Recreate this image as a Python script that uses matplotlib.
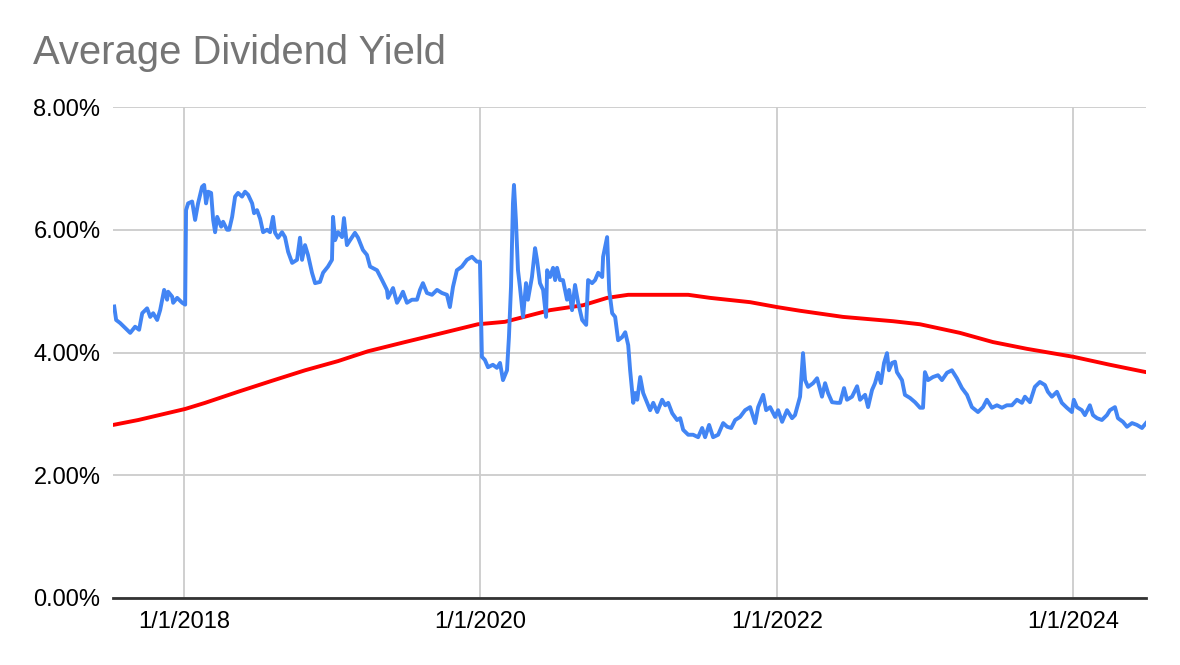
import matplotlib
matplotlib.use("Agg")
import matplotlib.pyplot as plt
import matplotlib.dates as mdates
from matplotlib.ticker import FuncFormatter
import pandas as pd

# ---- data (dates as decimal years, yields in %) ----
blue_t = [
    2017.528, 2017.541, 2017.568, 2017.602, 2017.636, 2017.669, 2017.696, 2017.717, 2017.750, 2017.771,
    2017.791, 2017.818, 2017.838, 2017.865, 2017.885, 2017.892, 2017.919, 2017.926, 2017.953, 2017.987,
    2018.007, 2018.013, 2018.027, 2018.054, 2018.074, 2018.094, 2018.121, 2018.135, 2018.148, 2018.162,
    2018.182, 2018.196, 2018.209, 2018.223, 2018.250, 2018.263, 2018.290, 2018.304, 2018.324, 2018.344,
    2018.364, 2018.391, 2018.411, 2018.432, 2018.459, 2018.472, 2018.492, 2018.513, 2018.533, 2018.560,
    2018.580, 2018.600, 2018.614, 2018.634, 2018.661, 2018.681, 2018.702, 2018.729, 2018.762, 2018.782,
    2018.796, 2018.816, 2018.836, 2018.863, 2018.884, 2018.917, 2018.938, 2018.971, 2018.998, 2019.005,
    2019.019, 2019.039, 2019.066, 2019.079, 2019.099, 2019.120, 2019.153, 2019.174, 2019.207, 2019.234,
    2019.255, 2019.302, 2019.336, 2019.369, 2019.376, 2019.410, 2019.437, 2019.457, 2019.477, 2019.504,
    2019.538, 2019.572, 2019.592, 2019.612, 2019.639, 2019.673, 2019.707, 2019.740, 2019.774, 2019.794,
    2019.815, 2019.841, 2019.875, 2019.909, 2019.943, 2019.976, 2019.997, 2020.010, 2020.030, 2020.051,
    2020.084, 2020.111, 2020.132, 2020.152, 2020.179, 2020.192, 2020.206, 2020.219, 2020.226, 2020.239,
    2020.253, 2020.266, 2020.287, 2020.307, 2020.320, 2020.347, 2020.368, 2020.381, 2020.401, 2020.422,
    2020.442, 2020.449, 2020.469, 2020.489, 2020.503, 2020.516, 2020.536, 2020.556, 2020.583, 2020.597,
    2020.617, 2020.637, 2020.658, 2020.685, 2020.712, 2020.725, 2020.752, 2020.772, 2020.793, 2020.820,
    2020.826, 2020.853, 2020.867, 2020.887, 2020.907, 2020.927, 2020.954, 2020.975, 2020.995, 2021.008,
    2021.029, 2021.042, 2021.056, 2021.076, 2021.096, 2021.123, 2021.143, 2021.164, 2021.191, 2021.224,
    2021.245, 2021.265, 2021.292, 2021.325, 2021.346, 2021.366, 2021.400, 2021.433, 2021.467, 2021.494,
    2021.514, 2021.541, 2021.568, 2021.602, 2021.636, 2021.663, 2021.690, 2021.717, 2021.750, 2021.784,
    2021.818, 2021.852, 2021.872, 2021.906, 2021.926, 2021.953, 2021.987, 2022.007, 2022.034, 2022.067,
    2022.101, 2022.121, 2022.155, 2022.175, 2022.189, 2022.209, 2022.243, 2022.270, 2022.303, 2022.324,
    2022.344, 2022.371, 2022.405, 2022.425, 2022.452, 2022.472, 2022.506, 2022.540, 2022.560, 2022.594,
    2022.614, 2022.641, 2022.661, 2022.681, 2022.701, 2022.722, 2022.742, 2022.755, 2022.776, 2022.796,
    2022.809, 2022.843, 2022.863, 2022.897, 2022.931, 2022.965, 2022.985, 2022.998, 2023.019, 2023.052,
    2023.086, 2023.113, 2023.147, 2023.180, 2023.214, 2023.248, 2023.282, 2023.315, 2023.356, 2023.390,
    2023.416, 2023.450, 2023.484, 2023.518, 2023.551, 2023.585, 2023.619, 2023.653, 2023.673, 2023.707,
    2023.740, 2023.774, 2023.808, 2023.828, 2023.855, 2023.889, 2023.922, 2023.956, 2023.990, 2024.003,
    2024.024, 2024.057, 2024.078, 2024.111, 2024.132, 2024.159, 2024.192, 2024.226, 2024.246, 2024.280,
    2024.300, 2024.334, 2024.361, 2024.395, 2024.428, 2024.462, 2024.489,
]
blue_v = [
    4.75, 4.53, 4.48, 4.40, 4.32, 4.42, 4.37, 4.64, 4.72, 4.58,
    4.64, 4.53, 4.69, 5.02, 4.86, 4.99, 4.91, 4.81, 4.89, 4.81,
    4.78, 6.32, 6.43, 6.46, 6.16, 6.43, 6.70, 6.73, 6.43, 6.62,
    6.60, 6.16, 5.96, 6.21, 6.05, 6.13, 6.00, 6.00, 6.21, 6.54,
    6.60, 6.54, 6.62, 6.57, 6.43, 6.27, 6.32, 6.18, 5.96, 6.00,
    5.96, 6.21, 5.95, 5.87, 5.96, 5.88, 5.64, 5.46, 5.51, 5.87,
    5.51, 5.75, 5.59, 5.30, 5.13, 5.15, 5.30, 5.40, 5.51, 6.21,
    5.83, 5.96, 5.88, 6.19, 5.75, 5.83, 5.95, 5.87, 5.67, 5.59,
    5.40, 5.34, 5.18, 5.02, 4.89, 5.05, 4.81, 4.89, 4.99, 4.81,
    4.86, 4.86, 5.02, 5.13, 4.97, 4.94, 5.02, 4.97, 4.94, 4.74,
    5.07, 5.34, 5.40, 5.51, 5.56, 5.48, 5.48, 3.93, 3.88, 3.76,
    3.80, 3.75, 3.83, 3.55, 3.71, 4.25, 5.07, 6.43, 6.73, 6.16,
    5.34, 5.07, 4.58, 5.13, 4.86, 5.23, 5.70, 5.51, 5.13, 5.02,
    4.58, 5.34, 5.23, 5.38, 5.18, 5.38, 5.18, 5.18, 4.86, 5.02,
    4.69, 5.10, 4.81, 4.53, 4.45, 5.18, 5.13, 5.18, 5.30, 5.23,
    5.56, 5.88, 5.02, 4.64, 4.58, 4.20, 4.25, 4.33, 4.12, 3.71,
    3.18, 3.34, 3.23, 3.60, 3.34, 3.18, 3.06, 3.18, 3.03, 3.23,
    3.14, 3.18, 3.01, 2.90, 2.93, 2.74, 2.66, 2.66, 2.62, 2.77,
    2.62, 2.82, 2.62, 2.66, 2.85, 2.79, 2.77, 2.90, 2.95, 3.06,
    3.11, 2.85, 3.11, 3.31, 3.06, 3.11, 2.95, 3.06, 2.87, 3.06,
    2.93, 2.98, 3.28, 3.99, 3.55, 3.44, 3.50, 3.58, 3.28, 3.50,
    3.34, 3.19, 3.18, 3.18, 3.42, 3.23, 3.28, 3.45, 3.23, 3.31,
    3.11, 3.39, 3.50, 3.67, 3.50, 3.83, 3.99, 3.71, 3.83, 3.85,
    3.68, 3.55, 3.31, 3.26, 3.19, 3.10, 3.10, 3.68, 3.55, 3.60,
    3.63, 3.55, 3.67, 3.71, 3.58, 3.42, 3.31, 3.11, 3.03, 3.11,
    3.23, 3.10, 3.14, 3.10, 3.14, 3.14, 3.23, 3.18, 3.28, 3.19,
    3.44, 3.52, 3.47, 3.36, 3.28, 3.36, 3.18, 3.10, 3.03, 3.23,
    3.11, 3.06, 2.98, 3.14, 2.98, 2.93, 2.90, 2.98, 3.06, 3.11,
    2.93, 2.87, 2.79, 2.85, 2.82, 2.77, 2.85,
]

red_t = [
    2017.521, 2017.690, 2018.007, 2018.142, 2018.364, 2018.594, 2018.816, 2019.039, 2019.241, 2019.491,
    2019.713, 2019.983, 2020.165, 2020.469, 2020.691, 2020.853, 2020.995, 2021.400, 2021.548, 2021.818,
    2022.000, 2022.155, 2022.445, 2022.782, 2022.965, 2023.234, 2023.457, 2023.686, 2024.000, 2024.246,
    2024.489,
]
red_v = [
    2.82, 2.90, 3.08, 3.18, 3.36, 3.54, 3.71, 3.86, 4.02, 4.17,
    4.30, 4.46, 4.50, 4.69, 4.77, 4.89, 4.94, 4.94, 4.89, 4.82,
    4.74, 4.68, 4.58, 4.51, 4.46, 4.32, 4.17, 4.06, 3.93, 3.80,
    3.68,
]

y_ticks = [0, 2, 4, 6, 8]
x_tick_dates = ["2018-01-01", "2020-01-01", "2022-01-01", "2024-01-01"]
title = "Average Dividend Yield"


def to_dates(dec_years):
    out = []
    for d in dec_years:
        y = int(d)
        start = pd.Timestamp(year=y, month=1, day=1)
        end = pd.Timestamp(year=y + 1, month=1, day=1)
        out.append(start + (end - start) * (d - y))
    return pd.to_datetime(out)


bt = to_dates(blue_t)
rt = to_dates(red_t)

plt.rcParams['font.family'] = ['Liberation Sans', 'DejaVu Sans']

fig = plt.figure(figsize=(11.8, 6.65), dpi=100)
ax = fig.add_axes([113 / 1180, 1 - 598 / 665, (1146 - 113) / 1180, (598 - 107) / 665])

ax.plot(rt, red_v, color='#ff0000', lw=2.8, solid_capstyle='round', zorder=3)
ax.plot(bt, blue_v, color='#4285f4', lw=2.8, solid_joinstyle='round', zorder=4)

ax.set_ylim(0, 8)
ax.set_yticks(y_ticks)
ax.yaxis.set_major_formatter(FuncFormatter(lambda v, p: f"{v:.2f}%"))
ax.set_xlim(bt[0] - pd.Timedelta(days=3), bt[-1])
ax.set_xticks(pd.to_datetime(x_tick_dates))
ax.xaxis.set_major_formatter(FuncFormatter(
    lambda v, p: (lambda d: f"{d.month}/{d.day}/{d.year}")(mdates.num2date(v))))

ax.grid(True, color='#cccccc', lw=1.3, zorder=0)
ax.set_axisbelow(True)
for s in ['top', 'right', 'left']:
    ax.spines[s].set_visible(False)
ax.spines['bottom'].set_color('#333333')
ax.spines['bottom'].set_linewidth(2)
ax.spines['bottom'].set_zorder(5)
ax.tick_params(axis='both', length=0, labelsize=17, colors='#000000')
ax.tick_params(axis='y', pad=9)
ax.tick_params(axis='x', pad=9)

fig.text(33 / 1180, 1 - 64 / 665, title, fontsize=28.8, color='#757575', va='baseline', ha='left')

fig.savefig('out.png', dpi=100, facecolor='white')
